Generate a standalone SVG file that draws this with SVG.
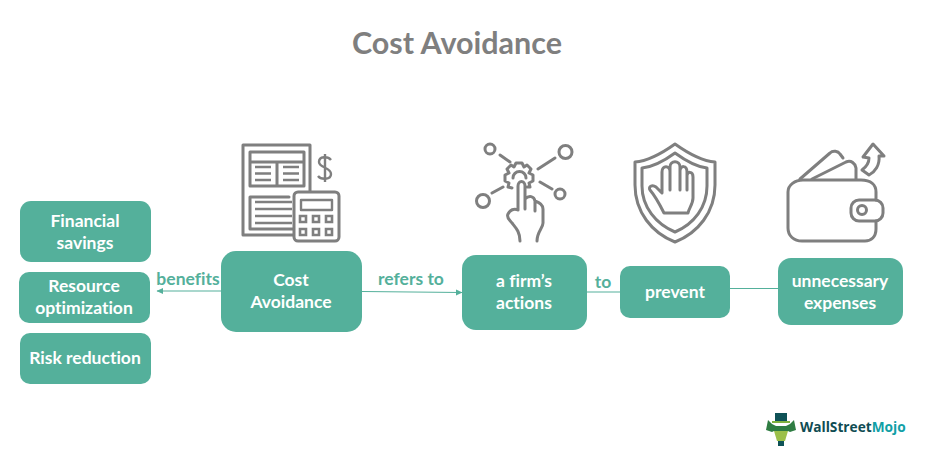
<svg xmlns="http://www.w3.org/2000/svg" width="927" height="461" viewBox="0 0 927 461">
<defs>
<marker id="arr" markerUnits="userSpaceOnUse" markerWidth="7" markerHeight="7" refX="6" refY="3.5" orient="auto-start-reverse"><path d="M0 0.5L6.5 3.5L0 6.5Z" fill="#54B09B"/></marker>
</defs>
<style>
text{font-family:Lato,Carlito,"Open Sans",sans-serif;font-weight:700;font-variant-ligatures:none}
.b{fill:#54B09B}
.t{fill:#fff;font-size:17.5px;text-anchor:middle}
.l{fill:#54B09B;font-size:17.5px;text-anchor:middle}
.c{fill:none;stroke:#54B09B;stroke-width:1.2}
.i{fill:none;stroke:#7F7F7F;stroke-width:3;stroke-linejoin:round;stroke-linecap:round}
.i2{fill:none;stroke:#7F7F7F;stroke-width:2.4;stroke-linejoin:round;stroke-linecap:butt}
</style>
<rect width="927" height="461" fill="#fff"/>
<text x="457" y="54" text-anchor="middle" style="font-size:30.5px;fill:#7F7F7F">Cost Avoidance</text>
<g id="connectors">
<line class="c" x1="221" y1="291" x2="157" y2="291" marker-end="url(#arr)"/>
<line class="c" x1="362" y1="291.500" x2="462" y2="292.500" marker-end="url(#arr)"/>
<line class="c" x1="587" y1="292" x2="620" y2="292"/>
<line class="c" x1="730" y1="288.500" x2="778" y2="288.500"/>
</g>
<g id="label-benefits"><text class="l" x="188" y="285">benefits</text></g>
<g id="label-refers"><text class="l" x="411" y="285">refers to</text></g>
<g id="label-to"><text class="l" x="603" y="288">to</text></g>
<g id="node-savings"><rect class="b" x="20" y="201" width="131" height="61" rx="11"/><text class="t" x="85" y="227">Financial</text><text class="t" x="85" y="249">savings</text></g>
<g id="node-resource"><rect class="b" x="19" y="272" width="131" height="51" rx="10"/><text class="t" x="84" y="292">Resource</text><text class="t" x="84" y="314">optimization</text></g>
<g id="node-risk"><rect class="b" x="20" y="333" width="131" height="51" rx="10"/><text class="t" x="85" y="364">Risk reduction</text></g>
<g id="node-cost"><rect class="b" x="221" y="251" width="141" height="81" rx="15"/><text class="t" x="291" y="286">Cost</text><text class="t" x="291" y="308">Avoidance</text></g>
<g id="node-firm"><rect class="b" x="462" y="255" width="125" height="75" rx="14"/><text class="t" x="524" y="287">a firm’s</text><text class="t" x="524" y="309">actions</text></g>
<g id="node-prevent"><rect class="b" x="620" y="266" width="110" height="52" rx="10"/><text class="t" x="675" y="298">prevent</text></g>
<g id="node-expenses"><rect class="b" x="778" y="258" width="125" height="67" rx="13"/><text class="t" x="840" y="287">unnecessary</text><text class="t" x="840" y="309">expenses</text></g>
<g id="icon-calculator">
<path class="i" d="M293 235H243V145H310V191"/>
<path class="i" d="M250 152H304V186H250ZM250 162H304M277 162V186"/>
<path class="i2" d="M255 167H271M255 173.500H271M255 180H271M283 167H299M283 173.500H299M283 180H299"/>
<path class="i" d="M289 197H250V229H293"/>
<path class="i2" d="M255 202H292M255 209H292M255 216H292M255 223H292"/>
<rect class="i" x="294" y="192" width="45" height="49" rx="4"/>
<rect class="i2" x="301" y="200" width="31" height="10"/>
<path d="M300 216h6v6h-6zM313 216h6v6h-6zM326 216h6v6h-6zM300 229h6v6h-6zM313 229h6v6h-6zM326 229h6v6h-6z" fill="none" stroke="#7F7F7F" stroke-width="2.600"/>
<path class="i2" d="M331 160C328 156 319 156 319 162C319 168 331 167 331 174C331 180 321 180 318 176M325 154V182"/>
</g>
<g id="icon-gear-hand">
<circle class="i" cx="490" cy="149" r="5"/><circle class="i" cx="565.500" cy="152" r="6.500"/><circle class="i" cx="483" cy="201" r="6.500"/><circle class="i" cx="560" cy="194" r="5"/>
<path class="i" d="M500 155L510 162M555 158L538 169M540 182L552 189M492 193L503 187"/>
<path class="i" stroke-width="2.600" d="M512 188L508 187L509 183L505 181L505 175L509 173L507 169L511 165L514 167L516 163L522 163L524 167L527 165L531 169L529 173L533 175L533 181L529 183L530 187L527 187"/>
<path class="i" d="M513 178A6.500 6.500 0 0 1 526 178"/>
<path class="i" d="M518 210V186C518 180 525 180 525 186V199C529 195 534 196 535 201C538 202 543 204 543 209V223C543 228 537 232 537 241M518 210C514 208 510 210 508 214C506 218 510 220 512 223C516 228 520 232 520 241M525 199V209M535 201V211"/>
</g>
<g id="icon-shield">
<path class="i" d="M675 144C689 154 702 161 715 162V185C715 212 698 233 675 242C652 233 635 212 635 185V162C648 161 661 154 675 144Z"/>
<path class="i" d="M675 153C686 161 697 167 707 168V186C707 207 694 224 675 232C656 224 642 207 642 186V168C653 167 664 161 675 153Z"/>
<path class="i" d="M664 213C660 205 656 197 650 190C648 187 652 184 656 187L662 193V172C662 165 670 165 670 172V167C670 160 680 160 680 167V171C680 165 687 165 687 172V176C687 171 693 171 693 177V198C693 204 689 208 688 213ZM670 172V190M680 168V190M687 172V190"/>
</g>
<g id="icon-wallet">
<path class="i" d="M803 180H861C871 180 876 185 876 192V200M876 221V229C876 237 871 241 865 241H802C794 241 788 236 788 228V192C788 185 795 180 803 180"/>
<rect class="i" x="851" y="200" width="32" height="21" rx="8"/>
<circle class="i" cx="862" cy="210" r="4.500"/>
<path class="i" d="M800 179L830 153C833 150 838 151 840 154L843 158"/>
<path class="i" d="M812 179L846 162C851 160 855 163 856 168V179"/>
<path class="i" d="M873 144L863 157L869 158C869 163 866 167 862 170L869 175C875 172 880 165 879 156L884 156Z"/>
</g>
<g id="logo">
<path d="M775 413h12v8l-3 2h-6l-3-2z" fill="#0F5257"/>
<path d="M772 421h18v2h-18z" fill="#7FB23F"/>
<path d="M768 420L772 424L776 426H786L790 424L794 420L796 430L790 432L788 431H774L772 432L766 430Z" fill="#2F7D43"/>
<path d="M774 431H788L785 441H777Z" fill="#9CC04A"/>
<path d="M778 441h6v5h-6z" fill="#0F5257"/>
<text style="font-size:13.700px;fill:#0F4C53;font-family:'Open Sans',sans-serif" y="432"><tspan x="800">WallStreet</tspan><tspan fill="#11A0A6">Mojo</tspan></text>
</g>
</svg>
